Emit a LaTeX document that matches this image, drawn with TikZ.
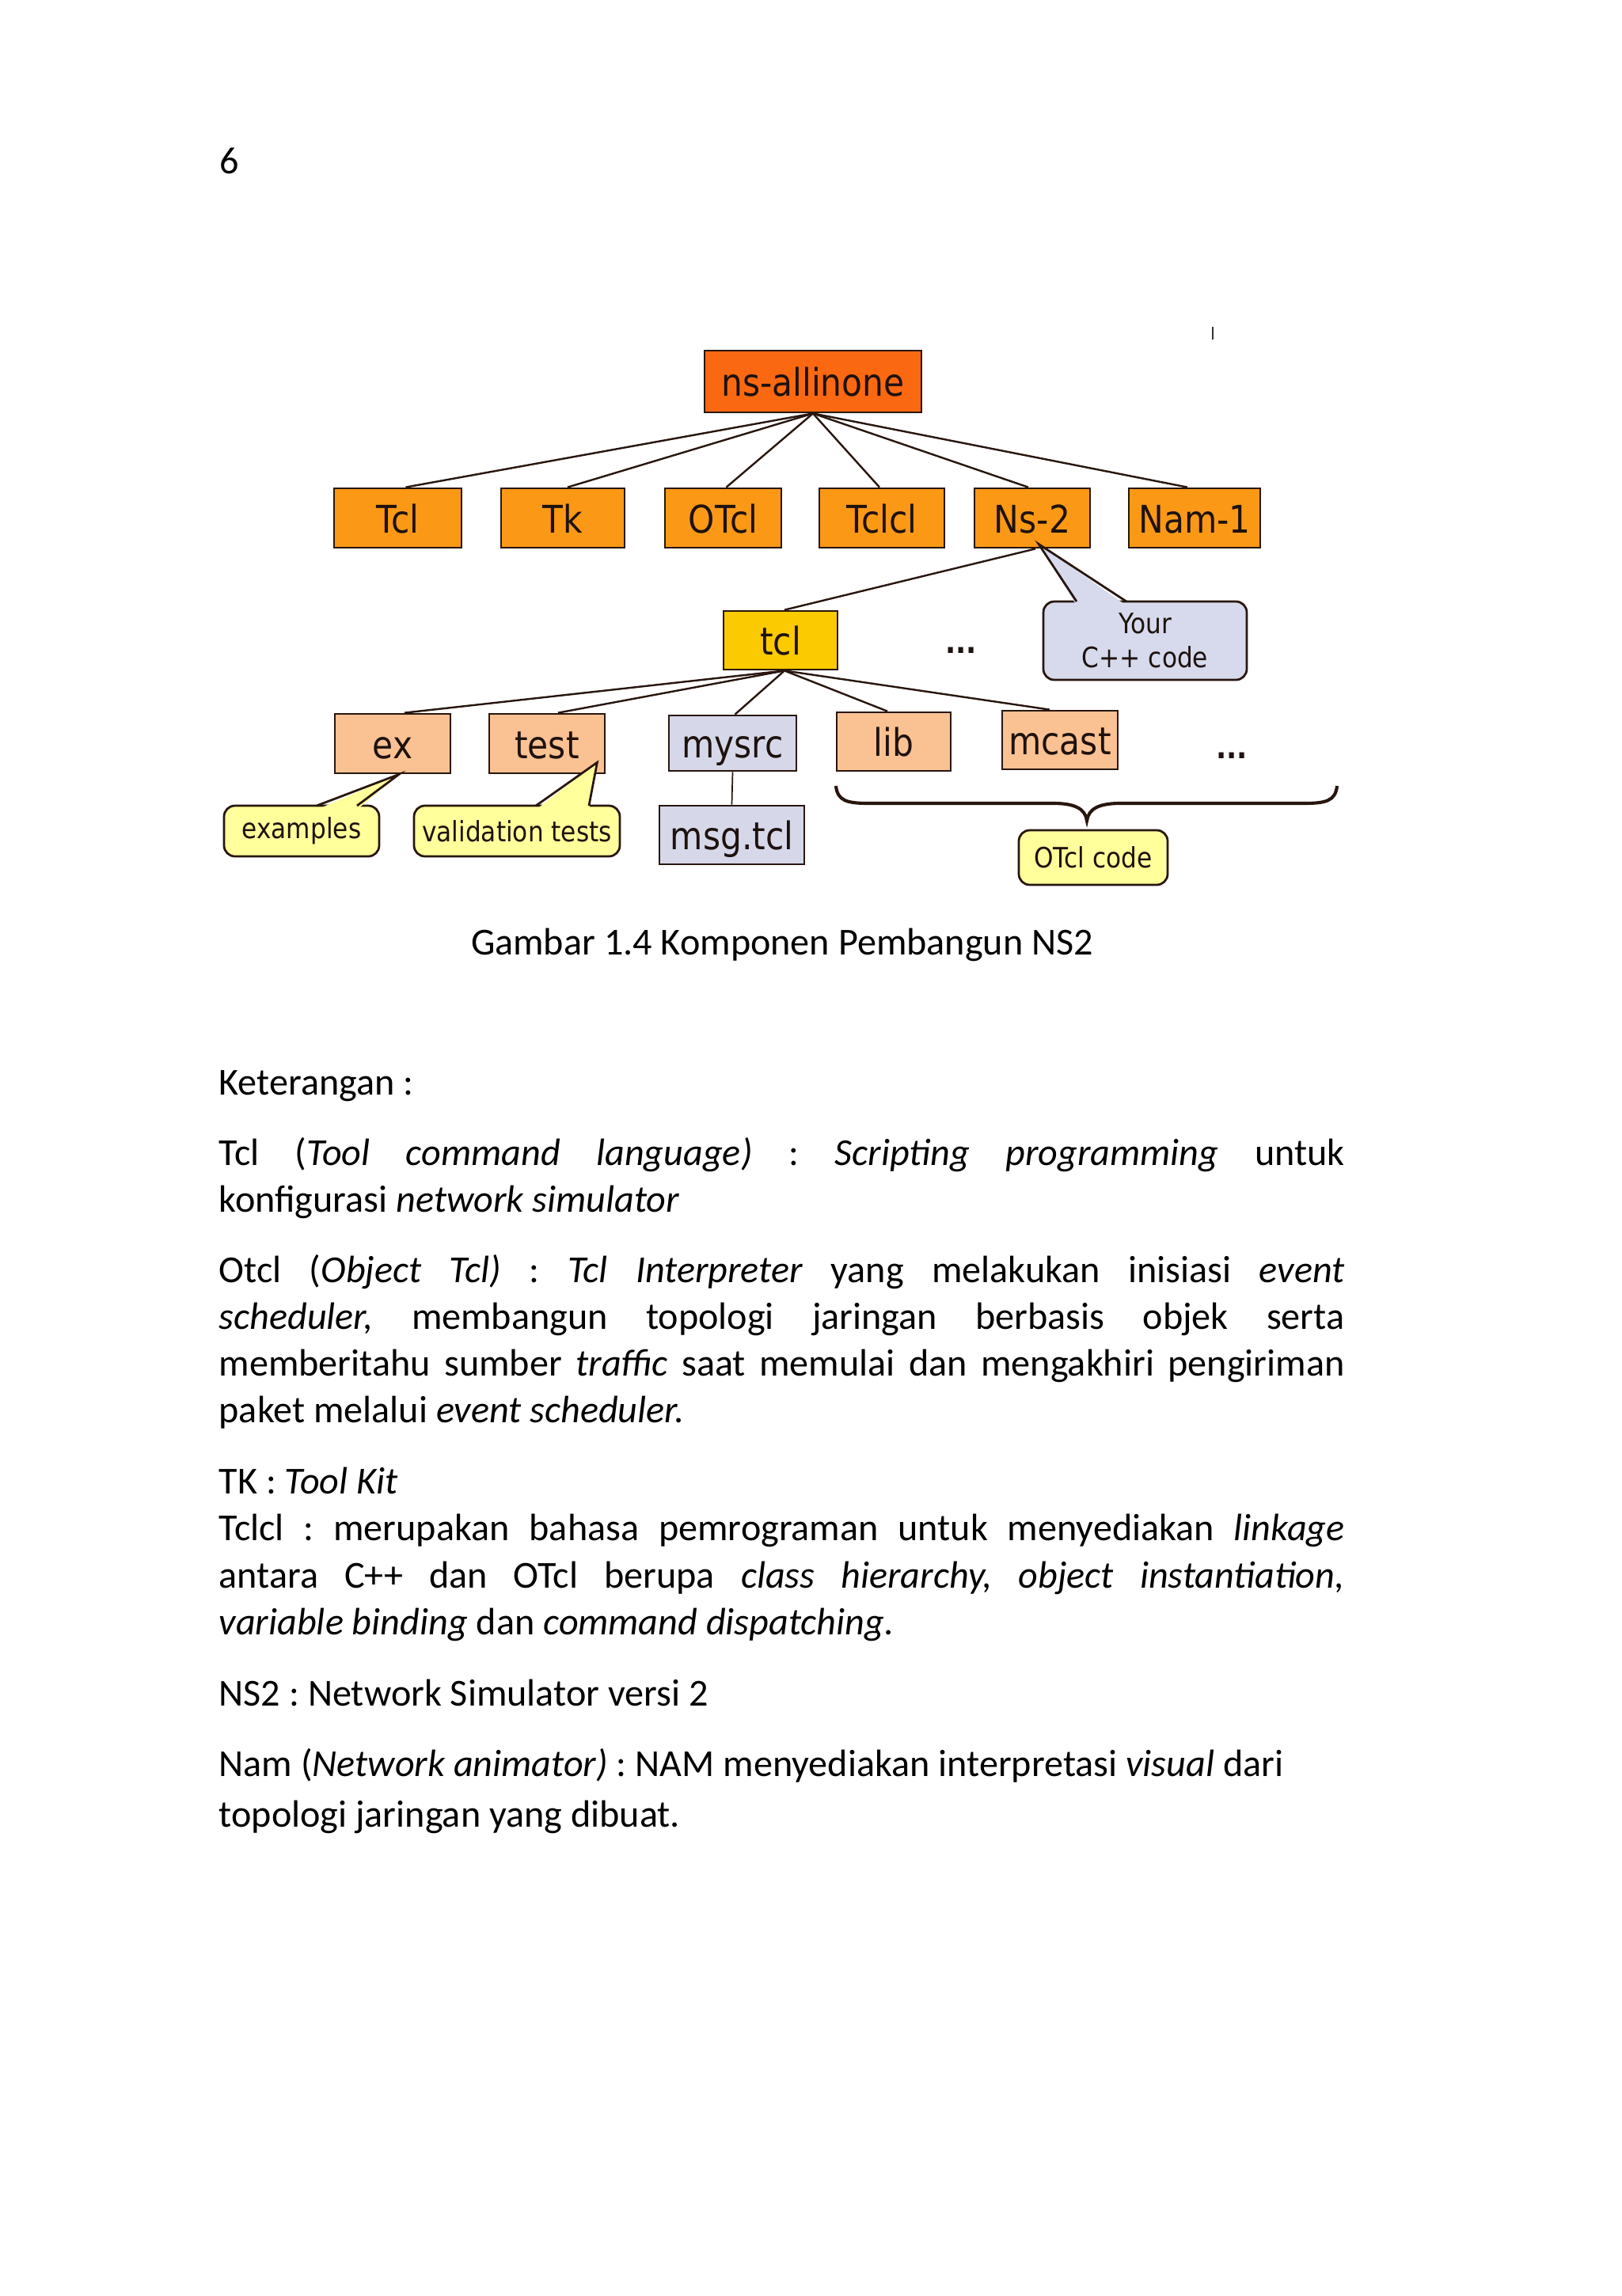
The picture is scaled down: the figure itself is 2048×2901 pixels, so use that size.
\documentclass[tikz,border=0pt]{standalone}
\usepackage{fontspec}
\setmainfont{Carlito}
\newfontfamily\dg[FakeStretch=0.88]{DejaVu Sans}
\usetikzlibrary{calc}
\definecolor{bordc}{RGB}{40,22,14}
\definecolor{txtc}{RGB}{30,18,14}
\definecolor{nsc}{RGB}{250,104,18}
\definecolor{orc}{RGB}{251,153,22}
\definecolor{goldc}{RGB}{252,202,0}
\definecolor{peachc}{RGB}{250,193,146}
\definecolor{lavc}{RGB}{214,216,234}
\definecolor{yelc}{RGB}{255,255,155}
\definecolor{cppc}{RGB}{214,218,236}
\newcommand\pxu{0.29066pt}
\frenchspacing
\begin{document}
\frenchspacing
\begin{tikzpicture}[x=0.29066pt,y=-0.29066pt,
  box/.style={draw=bordc, line width=0.8pt, inner sep=0pt, text=txtc,
    text height=13pt, text depth=2pt,
    font=\dg\fontsize{14}{16}\selectfont},
  sz/.style n args={2}{minimum width=#1*\pxu, minimum height=#2*\pxu},
  conn/.style={draw=bordc, line width=0.7pt},
  call/.style={draw=bordc, line width=0.8pt, rounded corners=4pt, inner sep=0pt,
    text=txtc, align=center, font=\dg\fontsize{10.3}{12.5}\selectfont},
  side/.style={draw=bordc, line width=0.8pt, line join=miter},
  txt/.style={inner sep=0pt, anchor=base west, font=\fontsize{14}{17}\selectfont},
  dots/.style={inner sep=0pt, anchor=base, text=txtc, font=\dg\bfseries\fontsize{11.5}{12}\selectfont}]

\fill[white] (0,0) rectangle (2048,2901);

% page number
\node[txt] (pnum) at (277,219) {6};

% tick mark
\draw[line width=0.6pt, black!80] (1532,413) -- (1532,429);

% ---------- tree ----------
\node[box, fill=nsc, sz={274}{78}] (ns) at (1027,482) {ns-allinone};

\node[box, fill=orc, sz={161}{75}] (rTcl)   at (502.5,654.5) {Tcl};
\node[box, fill=orc, sz={156}{75}] (rTk)    at (711,654.5)   {Tk};
\node[box, fill=orc, sz={147}{75}] (rOTcl)  at (913.5,654.5) {OTcl};
\node[box, fill=orc, sz={158}{75}] (rTclcl) at (1114,654.5)  {Tclcl};
\node[box, fill=orc, sz={146}{75}] (rNs)    at (1304,654.5)  {Ns-2};
\node[box, fill=orc, sz={166}{75}] (rNam)   at (1509,654.5)  {Nam-1};

\node[box, fill=goldc, sz={144}{74}] (tclsub) at (986,809) {tcl};

\node[box, fill=peachc, sz={146}{75}] (ex)    at (496,939.5)  {ex};
\node[box, fill=peachc, sz={146}{75}] (test)  at (691,939.5)  {test};
\node[box, fill=lavc,   sz={161}{70}] (mysrc) at (925.5,939)  {mysrc};
\node[box, fill=peachc, sz={144}{74}] (lib)   at (1129,937)   {lib};
\node[box, fill=peachc, sz={146}{74}] (mcast) at (1339,935)   {mcast};
\node[box, fill=lavc,   sz={183}{74}] (msg)   at (924.5,1055) {msg.tcl};

\node[dots] (dots1) at (1214,825) {...};
\node[dots] (dots2) at (1556,958) {...};

% connectors
\draw[conn] (ns.south) -- ($(rTcl.north)+(10,0)$);
\draw[conn] (ns.south) -- ($(rTk.north)+(6,0)$);
\draw[conn] (ns.south) -- ($(rOTcl.north)+(4,0)$);
\draw[conn] (ns.south) -- ($(rTclcl.north)+(-3,0)$);
\draw[conn] (ns.south) -- ($(rNs.north)+(-5,0)$);
\draw[conn] (ns.south) -- ($(rNam.north)+(-9,0)$);
\draw[conn] ($(rNs.south)+(4,0)$) -- ($(tclsub.north)+(5,0)$);
\draw[conn] ($(tclsub.south)+(5,0)$) -- ($(ex.north)+(15,0)$);
\draw[conn] ($(tclsub.south)+(5,0)$) -- ($(test.north)+(14,0)$);
\draw[conn] ($(tclsub.south)+(5,0)$) -- ($(mysrc.north)+(3,0)$);
\draw[conn] ($(tclsub.south)+(5,0)$) -- ($(lib.north)+(-8,0)$);
\draw[conn] ($(tclsub.south)+(5,0)$) -- ($(mcast.north)+(-13,0)$);
\draw[conn, line width=0.5pt] (mysrc.south) -- (msg.north);

% ---------- callouts ----------
% Your C++ code
\node[call, fill=cppc, sz={257}{99}] (cpp) at (1446.5,809.5) {Your\\C++ code};
\coordinate (cppA) at (1360,760);
\coordinate (cppB) at (1423,760);
\coordinate (cppT) at ($(rNs.south)+(8,-6)$);
\fill[cppc] ($(cppA)+(0,5)$) -- (cppT) -- ($(cppB)+(0,5)$) -- cycle;
\draw[side] (cppA) -- (cppT) -- (cppB);

% examples
\node[call, fill=yelc, sz={196}{64}] (exm) at (381,1050) {examples};
\coordinate (exmA) at (400,1018);
\coordinate (exmB) at (451,1018);
\coordinate (exmT) at ($(ex.south)+(8,0)$);
\fill[yelc] ($(exmA)+(0,5)$) -- (exmT) -- ($(exmB)+(0,5)$) -- cycle;
\draw[side] (exmA) -- (exmT) -- (exmB);

% validation tests
\node[call, fill=yelc, sz={260}{64}] (val) at (653,1050) {validation tests};
\coordinate (valA) at (677,1018);
\coordinate (valB) at (744,1018);
\coordinate (valT) at ($(test.south east)+(-11,-15)$);
\fill[yelc] ($(valA)+(0,5)$) -- (valT) -- ($(valB)+(0,5)$) -- cycle;
\draw[side] (valA) -- (valT) -- (valB);

% brace
\coordinate (brL) at (1056,993);
\coordinate (brR) at (1689,993);
\coordinate (brM) at (1373,1037);
\draw[bordc, line width=1.2pt]
  (brL) .. controls (1058,1012) and (1070,1015) .. (1098,1015)
  -- (1331,1015) .. controls (1358,1015) and (1371,1022) .. (brM)
  .. controls (1375,1022) and (1388,1015) .. (1415,1015)
  -- (1647,1015) .. controls (1675,1015) and (1687,1012) .. (brR);

% OTcl code
\node[call, fill=yelc, sz={188}{69}] (otc) at (1381,1083.5) {OTcl code};

% ---------- caption and text ----------
\node[inner sep=0pt, anchor=base, font=\fontsize{14}{17}\selectfont] (cap) at (988,1206)
  {Gambar 1.4 Komponen Pembangun NS2};

\node[txt] (p1) at (276,1383) {Keterangan :};
\node[txt] (p2) at (276,1472) {\makebox[413.3pt][s]{Tcl (\textit{Tool command language)} : \textit{Scripting programming} untuk}};
\node[txt] (p3) at (276,1531) {konfigurasi \textit{network simulator}};
\node[txt] (p4) at (276,1620) {\makebox[413.3pt][s]{Otcl (\textit{Object Tcl)} : \textit{Tcl Interpreter} yang melakukan inisiasi \textit{event}}};
\node[txt] (p5) at (276,1679) {\makebox[413.3pt][s]{\textit{scheduler,} membangun topologi jaringan berbasis objek serta}};
\node[txt] (p6) at (276,1738) {\makebox[413.3pt][s]{memberitahu sumber \textit{traffic} saat memulai dan mengakhiri pengiriman}};
\node[txt] (p7) at (276,1797) {paket melalui \textit{event scheduler.}};
\node[txt] (p8) at (276,1887) {TK : \textit{Tool Kit}};
\node[txt] (p9) at (276,1946) {\makebox[413.3pt][s]{Tclcl : merupakan bahasa pemrograman untuk menyediakan \textit{linkage}}};
\node[txt] (p10) at (276,2006) {\makebox[413.3pt][s]{antara C++ dan OTcl berupa \textit{class hierarchy, object instantiation,}}};
\node[txt] (p11) at (276,2065) {\textit{variable binding} dan \textit{command dispatching.}};
\node[txt] (p12) at (276,2155) {NS2 : Network Simulator versi 2};
\node[txt] (p13) at (276,2244) {Nam (\textit{Network animator)} : NAM menyediakan interpretasi \textit{visual} dari};
\node[txt] (p14) at (276,2308) {topologi jaringan yang dibuat.};

\end{tikzpicture}
\end{document}
